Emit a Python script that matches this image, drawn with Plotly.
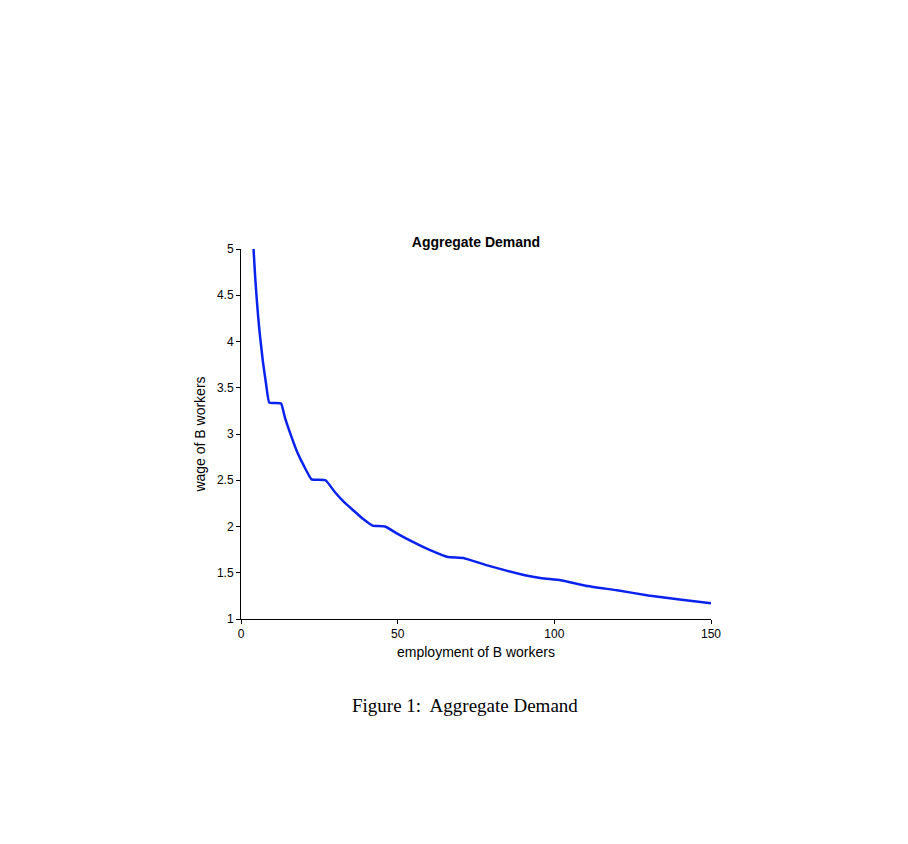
import plotly.graph_objects as go

employment = [4, 4.5, 5, 5.5, 6, 7, 8, 9, 12.8, 14, 16, 18, 20, 22.5, 27, 30, 33, 36, 39, 42, 46,
              50, 55, 60, 66, 71, 78, 85, 91, 96, 102, 110, 120, 130, 140, 150]
wage = [5.0, 4.71, 4.47, 4.26, 4.08, 3.78, 3.54, 3.34, 3.33, 3.18, 2.98, 2.80, 2.66, 2.51, 2.50,
        2.37, 2.26, 2.17, 2.08, 2.01, 2.00, 1.92, 1.83, 1.75, 1.67, 1.66, 1.585, 1.52, 1.47, 1.44,
        1.42, 1.36, 1.31, 1.255, 1.21, 1.17]
x_ticks = [0, 50, 100, 150]
y_ticks = [1, 1.5, 2, 2.5, 3, 3.5, 4, 4.5, 5]

fig = go.Figure(go.Scatter(x=employment, y=wage, mode="lines",
                           line=dict(color="#0a22ee", width=2.5, shape="spline", smoothing=0.3)))
ax = dict(showgrid=False, zeroline=False, showline=True, linecolor="black", linewidth=1,
          ticks="outside", ticklen=4, tickcolor="black", mirror=False,
          tickfont=dict(size=12, color="black"), title_font=dict(size=14, color="black"))
fig.update_xaxes(range=[0, 150], tickvals=x_ticks, title_text="employment of B workers",
                 title_standoff=6, **ax)
fig.update_yaxes(range=[1, 5], tickvals=y_ticks, ticktext=[str(v) for v in y_ticks],
                 title_text="wage of B workers", title_standoff=8, **ax)
fig.update_layout(
    width=908, height=844, plot_bgcolor="white", paper_bgcolor="white",
    margin=dict(l=233, r=205, t=241, b=233), showlegend=False,
    font=dict(family="Liberation Sans, Arial, sans-serif"),
    title=dict(text="<b>Aggregate Demand</b>", x=0.5, xref="paper", y=1, yref="paper",
               yanchor="bottom", pad=dict(b=2), font=dict(size=14, color="black")),
    annotations=[dict(text="Figure 1:  Aggregate Demand", x=457, y=844-697, xref="paper",
                      yref="paper", showarrow=False,
                      font=dict(family="Liberation Serif, serif", size=19, color="black"))])
# annotation uses pixel coords converted to paper
a = fig.layout.annotations[0]
a.x = (457 - 233) / 470
a.y = (611 - 697) / 370
a.yanchor = "middle"
fig.write_html("out.html")
